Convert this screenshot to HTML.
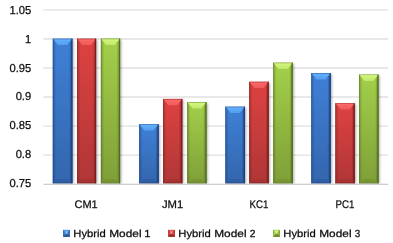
<!DOCTYPE html>
<html lang="en">
<head>
<meta charset="utf-8">
<title>Hybrid Models Chart</title>
<style>
html,body{margin:0;padding:0;background:#fff;}
body{width:393px;height:243px;overflow:hidden;}
svg{display:block;}
text{font-family:"Liberation Sans",sans-serif;fill:#0c0c0c;stroke:#0c0c0c;stroke-width:0.25px;text-rendering:geometricPrecision;}
</style>
</head>
<body>
<svg width="393" height="243" viewBox="0 0 393 243">
<defs>
<linearGradient id="b0" x1="0" y1="0" x2="0" y2="1"><stop offset="0" stop-color="#3f80d6"/><stop offset="1" stop-color="#3366ad"/></linearGradient>
<linearGradient id="t0" x1="0" y1="0" x2="0" y2="1"><stop offset="0" stop-color="#62b0fc"/><stop offset="1" stop-color="#62b0fc" stop-opacity="0.62"/></linearGradient>
<linearGradient id="b1" x1="0" y1="0" x2="0" y2="1"><stop offset="0" stop-color="#de4242"/><stop offset="1" stop-color="#b03636"/></linearGradient>
<linearGradient id="t1" x1="0" y1="0" x2="0" y2="1"><stop offset="0" stop-color="#fb6a6a"/><stop offset="1" stop-color="#fb6a6a" stop-opacity="0.62"/></linearGradient>
<linearGradient id="b2" x1="0" y1="0" x2="0" y2="1"><stop offset="0" stop-color="#a3d04a"/><stop offset="1" stop-color="#7f9f38"/></linearGradient>
<linearGradient id="t2" x1="0" y1="0" x2="0" y2="1"><stop offset="0" stop-color="#d4f67e"/><stop offset="1" stop-color="#d4f67e" stop-opacity="0.62"/></linearGradient>
<linearGradient id="l0" x1="0" y1="0" x2="1" y2="0"><stop offset="0" stop-color="#173a78" stop-opacity="0.45"/><stop offset="1" stop-color="#173a78" stop-opacity="0"/></linearGradient>
<linearGradient id="r0" x1="0" y1="0" x2="1" y2="0"><stop offset="0" stop-color="#173a78" stop-opacity="0"/><stop offset="1" stop-color="#173a78" stop-opacity="0.75"/></linearGradient>
<linearGradient id="l1" x1="0" y1="0" x2="1" y2="0"><stop offset="0" stop-color="#741a1a" stop-opacity="0.45"/><stop offset="1" stop-color="#741a1a" stop-opacity="0"/></linearGradient>
<linearGradient id="r1" x1="0" y1="0" x2="1" y2="0"><stop offset="0" stop-color="#741a1a" stop-opacity="0"/><stop offset="1" stop-color="#741a1a" stop-opacity="0.75"/></linearGradient>
<linearGradient id="l2" x1="0" y1="0" x2="1" y2="0"><stop offset="0" stop-color="#4c661a" stop-opacity="0.45"/><stop offset="1" stop-color="#4c661a" stop-opacity="0"/></linearGradient>
<linearGradient id="r2" x1="0" y1="0" x2="1" y2="0"><stop offset="0" stop-color="#4c661a" stop-opacity="0"/><stop offset="1" stop-color="#4c661a" stop-opacity="0.75"/></linearGradient>
<filter id="sh" x="-30%" y="-5%" width="160%" height="110%"><feGaussianBlur stdDeviation="0.8"/></filter>
<filter id="soft" x="-5%" y="-5%" width="110%" height="110%"><feGaussianBlur stdDeviation="0.35"/></filter>
<filter id="soft2" x="-50%" y="-50%" width="200%" height="200%"><feGaussianBlur stdDeviation="0.6"/></filter>
</defs>
<rect width="393" height="243" fill="#ffffff"/>
<g stroke="#e0e0e0" stroke-width="1.4">
<line x1="43.4" y1="9.9" x2="388.3" y2="9.9"/>
<line x1="43.4" y1="38.95" x2="388.3" y2="38.95"/>
<line x1="43.4" y1="68.0" x2="388.3" y2="68.0"/>
<line x1="43.4" y1="97.05" x2="388.3" y2="97.05"/>
<line x1="43.4" y1="126.1" x2="388.3" y2="126.1"/>
<line x1="43.4" y1="155.15" x2="388.3" y2="155.15"/>
</g>
<g fill="#000" opacity="0.3" filter="url(#sh)">
<rect x="54.1" y="39.8" width="19.6" height="143.6"/>
<rect x="78.4" y="39.8" width="19.0" height="143.6"/>
<rect x="102.2" y="39.8" width="19.2" height="143.6"/>
<rect x="140.5" y="125.4" width="19.5" height="58.0"/>
<rect x="164.4" y="100.1" width="19.2" height="83.3"/>
<rect x="188.5" y="103.3" width="19.3" height="80.1"/>
<rect x="226.7" y="107.8" width="19.5" height="75.6"/>
<rect x="250.5" y="82.9" width="19.5" height="100.5"/>
<rect x="274.5" y="63.8" width="19.6" height="119.6"/>
<rect x="312.6" y="74.2" width="19.4" height="109.2"/>
<rect x="336.7" y="104.4" width="19.4" height="79.0"/>
<rect x="360.4" y="75.7" width="19.4" height="107.7"/>
</g>
<g filter="url(#soft)">
<g><rect x="52.8" y="38.6" width="19.6" height="144.8" fill="url(#b0)"/><polygon points="52.8,38.6 52.8,183.4 56.2,180.4 56.2,42.8" fill="url(#l0)"/><polygon points="72.4,38.6 72.4,183.4 69.0,180.4 69.0,42.8" fill="url(#r0)"/><polygon points="53.5,39.2 71.7,39.2 67.2,45.0 58.0,45.0" fill="url(#t0)"/><polygon points="52.8,183.4 72.4,183.4 67.2,178.9 58.0,178.9" fill="#173a78" opacity="0.18"/><rect x="71.3" y="38.6" width="1.1" height="144.8" fill="#173a78" opacity="0.8"/><rect x="52.8" y="38.6" width="19.6" height="0.6" fill="#173a78" opacity="0.4"/><rect x="52.8" y="38.6" width="0.6" height="144.8" fill="#173a78" opacity="0.6"/><rect x="52.8" y="182.7" width="19.6" height="0.7" fill="#173a78" opacity="0.5"/></g>
<g><rect x="77.1" y="38.6" width="19.0" height="144.8" fill="url(#b1)"/><polygon points="77.1,38.6 77.1,183.4 80.5,180.4 80.5,42.8" fill="url(#l1)"/><polygon points="96.1,38.6 96.1,183.4 92.7,180.4 92.7,42.8" fill="url(#r1)"/><polygon points="77.8,39.2 95.4,39.2 90.9,45.0 82.3,45.0" fill="url(#t1)"/><polygon points="77.1,183.4 96.1,183.4 90.9,178.9 82.3,178.9" fill="#741a1a" opacity="0.18"/><rect x="95.0" y="38.6" width="1.1" height="144.8" fill="#741a1a" opacity="0.8"/><rect x="77.1" y="38.6" width="19.0" height="0.6" fill="#741a1a" opacity="0.4"/><rect x="77.1" y="38.6" width="0.6" height="144.8" fill="#741a1a" opacity="0.6"/><rect x="77.1" y="182.7" width="19.0" height="0.7" fill="#741a1a" opacity="0.5"/></g>
<g><rect x="100.9" y="38.6" width="19.2" height="144.8" fill="url(#b2)"/><polygon points="100.9,38.6 100.9,183.4 104.3,180.4 104.3,42.8" fill="url(#l2)"/><polygon points="120.1,38.6 120.1,183.4 116.7,180.4 116.7,42.8" fill="url(#r2)"/><polygon points="101.6,39.2 119.4,39.2 114.9,45.0 106.1,45.0" fill="url(#t2)"/><polygon points="100.9,183.4 120.1,183.4 114.9,178.9 106.1,178.9" fill="#4c661a" opacity="0.18"/><rect x="119.0" y="38.6" width="1.1" height="144.8" fill="#4c661a" opacity="0.8"/><rect x="100.9" y="38.6" width="19.2" height="0.6" fill="#4c661a" opacity="0.4"/><rect x="100.9" y="38.6" width="0.6" height="144.8" fill="#4c661a" opacity="0.6"/><rect x="100.9" y="182.7" width="19.2" height="0.7" fill="#4c661a" opacity="0.5"/></g>
<g><rect x="139.2" y="124.2" width="19.5" height="59.2" fill="url(#b0)"/><polygon points="139.2,124.2 139.2,183.4 142.6,180.4 142.6,128.4" fill="url(#l0)"/><polygon points="158.7,124.2 158.7,183.4 155.2,180.4 155.2,128.4" fill="url(#r0)"/><polygon points="139.9,124.8 158.0,124.8 153.5,130.6 144.4,130.6" fill="url(#t0)"/><polygon points="139.2,183.4 158.7,183.4 153.5,178.9 144.4,178.9" fill="#173a78" opacity="0.18"/><rect x="157.6" y="124.2" width="1.1" height="59.2" fill="#173a78" opacity="0.8"/><rect x="139.2" y="124.2" width="19.5" height="0.6" fill="#173a78" opacity="0.4"/><rect x="139.2" y="124.2" width="0.6" height="59.2" fill="#173a78" opacity="0.6"/><rect x="139.2" y="182.7" width="19.5" height="0.7" fill="#173a78" opacity="0.5"/></g>
<g><rect x="163.1" y="98.9" width="19.2" height="84.5" fill="url(#b1)"/><polygon points="163.1,98.9 163.1,183.4 166.5,180.4 166.5,103.1" fill="url(#l1)"/><polygon points="182.3,98.9 182.3,183.4 178.9,180.4 178.9,103.1" fill="url(#r1)"/><polygon points="163.8,99.5 181.7,99.5 177.2,105.3 168.3,105.3" fill="url(#t1)"/><polygon points="163.1,183.4 182.3,183.4 177.2,178.9 168.3,178.9" fill="#741a1a" opacity="0.18"/><rect x="181.2" y="98.9" width="1.1" height="84.5" fill="#741a1a" opacity="0.8"/><rect x="163.1" y="98.9" width="19.2" height="0.6" fill="#741a1a" opacity="0.4"/><rect x="163.1" y="98.9" width="0.6" height="84.5" fill="#741a1a" opacity="0.6"/><rect x="163.1" y="182.7" width="19.2" height="0.7" fill="#741a1a" opacity="0.5"/></g>
<g><rect x="187.2" y="102.1" width="19.3" height="81.3" fill="url(#b2)"/><polygon points="187.2,102.1 187.2,183.4 190.6,180.4 190.6,106.3" fill="url(#l2)"/><polygon points="206.5,102.1 206.5,183.4 203.1,180.4 203.1,106.3" fill="url(#r2)"/><polygon points="187.9,102.7 205.8,102.7 201.3,108.5 192.4,108.5" fill="url(#t2)"/><polygon points="187.2,183.4 206.5,183.4 201.3,178.9 192.4,178.9" fill="#4c661a" opacity="0.18"/><rect x="205.4" y="102.1" width="1.1" height="81.3" fill="#4c661a" opacity="0.8"/><rect x="187.2" y="102.1" width="19.3" height="0.6" fill="#4c661a" opacity="0.4"/><rect x="187.2" y="102.1" width="0.6" height="81.3" fill="#4c661a" opacity="0.6"/><rect x="187.2" y="182.7" width="19.3" height="0.7" fill="#4c661a" opacity="0.5"/></g>
<g><rect x="225.4" y="106.6" width="19.5" height="76.8" fill="url(#b0)"/><polygon points="225.4,106.6 225.4,183.4 228.8,180.4 228.8,110.8" fill="url(#l0)"/><polygon points="244.9,106.6 244.9,183.4 241.5,180.4 241.5,110.8" fill="url(#r0)"/><polygon points="226.1,107.2 244.2,107.2 239.8,113.0 230.6,113.0" fill="url(#t0)"/><polygon points="225.4,183.4 244.9,183.4 239.8,178.9 230.6,178.9" fill="#173a78" opacity="0.18"/><rect x="243.8" y="106.6" width="1.1" height="76.8" fill="#173a78" opacity="0.8"/><rect x="225.4" y="106.6" width="19.5" height="0.6" fill="#173a78" opacity="0.4"/><rect x="225.4" y="106.6" width="0.6" height="76.8" fill="#173a78" opacity="0.6"/><rect x="225.4" y="182.7" width="19.5" height="0.7" fill="#173a78" opacity="0.5"/></g>
<g><rect x="249.2" y="81.7" width="19.5" height="101.7" fill="url(#b1)"/><polygon points="249.2,81.7 249.2,183.4 252.6,180.4 252.6,85.9" fill="url(#l1)"/><polygon points="268.7,81.7 268.7,183.4 265.3,180.4 265.3,85.9" fill="url(#r1)"/><polygon points="249.9,82.3 268.0,82.3 263.5,88.1 254.4,88.1" fill="url(#t1)"/><polygon points="249.2,183.4 268.7,183.4 263.5,178.9 254.4,178.9" fill="#741a1a" opacity="0.18"/><rect x="267.6" y="81.7" width="1.1" height="101.7" fill="#741a1a" opacity="0.8"/><rect x="249.2" y="81.7" width="19.5" height="0.6" fill="#741a1a" opacity="0.4"/><rect x="249.2" y="81.7" width="0.6" height="101.7" fill="#741a1a" opacity="0.6"/><rect x="249.2" y="182.7" width="19.5" height="0.7" fill="#741a1a" opacity="0.5"/></g>
<g><rect x="273.2" y="62.6" width="19.6" height="120.8" fill="url(#b2)"/><polygon points="273.2,62.6 273.2,183.4 276.6,180.4 276.6,66.8" fill="url(#l2)"/><polygon points="292.8,62.6 292.8,183.4 289.4,180.4 289.4,66.8" fill="url(#r2)"/><polygon points="273.9,63.2 292.1,63.2 287.6,69.0 278.4,69.0" fill="url(#t2)"/><polygon points="273.2,183.4 292.8,183.4 287.6,178.9 278.4,178.9" fill="#4c661a" opacity="0.18"/><rect x="291.6" y="62.6" width="1.1" height="120.8" fill="#4c661a" opacity="0.8"/><rect x="273.2" y="62.6" width="19.6" height="0.6" fill="#4c661a" opacity="0.4"/><rect x="273.2" y="62.6" width="0.6" height="120.8" fill="#4c661a" opacity="0.6"/><rect x="273.2" y="182.7" width="19.6" height="0.7" fill="#4c661a" opacity="0.5"/></g>
<g><rect x="311.3" y="73.0" width="19.4" height="110.4" fill="url(#b0)"/><polygon points="311.3,73.0 311.3,183.4 314.7,180.4 314.7,77.2" fill="url(#l0)"/><polygon points="330.7,73.0 330.7,183.4 327.3,180.4 327.3,77.2" fill="url(#r0)"/><polygon points="312.0,73.6 330.0,73.6 325.5,79.4 316.5,79.4" fill="url(#t0)"/><polygon points="311.3,183.4 330.7,183.4 325.5,178.9 316.5,178.9" fill="#173a78" opacity="0.18"/><rect x="329.6" y="73.0" width="1.1" height="110.4" fill="#173a78" opacity="0.8"/><rect x="311.3" y="73.0" width="19.4" height="0.6" fill="#173a78" opacity="0.4"/><rect x="311.3" y="73.0" width="0.6" height="110.4" fill="#173a78" opacity="0.6"/><rect x="311.3" y="182.7" width="19.4" height="0.7" fill="#173a78" opacity="0.5"/></g>
<g><rect x="335.4" y="103.2" width="19.4" height="80.2" fill="url(#b1)"/><polygon points="335.4,103.2 335.4,183.4 338.8,180.4 338.8,107.4" fill="url(#l1)"/><polygon points="354.8,103.2 354.8,183.4 351.4,180.4 351.4,107.4" fill="url(#r1)"/><polygon points="336.1,103.8 354.1,103.8 349.6,109.6 340.6,109.6" fill="url(#t1)"/><polygon points="335.4,183.4 354.8,183.4 349.6,178.9 340.6,178.9" fill="#741a1a" opacity="0.18"/><rect x="353.6" y="103.2" width="1.1" height="80.2" fill="#741a1a" opacity="0.8"/><rect x="335.4" y="103.2" width="19.4" height="0.6" fill="#741a1a" opacity="0.4"/><rect x="335.4" y="103.2" width="0.6" height="80.2" fill="#741a1a" opacity="0.6"/><rect x="335.4" y="182.7" width="19.4" height="0.7" fill="#741a1a" opacity="0.5"/></g>
<g><rect x="359.1" y="74.5" width="19.4" height="108.9" fill="url(#b2)"/><polygon points="359.1,74.5 359.1,183.4 362.5,180.4 362.5,78.7" fill="url(#l2)"/><polygon points="378.6,74.5 378.6,183.4 375.2,180.4 375.2,78.7" fill="url(#r2)"/><polygon points="359.8,75.1 377.9,75.1 373.4,80.9 364.3,80.9" fill="url(#t2)"/><polygon points="359.1,183.4 378.6,183.4 373.4,178.9 364.3,178.9" fill="#4c661a" opacity="0.18"/><rect x="377.4" y="74.5" width="1.1" height="108.9" fill="#4c661a" opacity="0.8"/><rect x="359.1" y="74.5" width="19.4" height="0.6" fill="#4c661a" opacity="0.4"/><rect x="359.1" y="74.5" width="0.6" height="108.9" fill="#4c661a" opacity="0.6"/><rect x="359.1" y="182.7" width="19.4" height="0.7" fill="#4c661a" opacity="0.5"/></g>
</g>
<g filter="url(#soft)"><rect x="43.5" y="183.70" width="344.9" height="1.2" fill="#c9c9c9"/></g>
<g transform="translate(31.2,0) scale(0.973,1)">
<text x="0" y="13.55" font-size="11.5" text-anchor="end">1.05</text>
<text x="0" y="42.53" font-size="11.5" text-anchor="end">1</text>
<text x="0" y="71.52" font-size="11.5" text-anchor="end">0.95</text>
<text x="0" y="100.40" font-size="11.5" text-anchor="end">0.9</text>
<text x="0" y="129.38" font-size="11.5" text-anchor="end">0.85</text>
<text x="0" y="158.37" font-size="11.5" text-anchor="end">0.8</text>
<text x="0" y="187.25" font-size="11.5" text-anchor="end">0.75</text>
</g>
<text x="74.50" y="208.45" font-size="11.1" textLength="23.20" lengthAdjust="spacingAndGlyphs">CM1</text>
<text x="161.90" y="208.45" font-size="11.1" textLength="21.40" lengthAdjust="spacingAndGlyphs">JM1</text>
<text x="249.60" y="208.45" font-size="11.1" textLength="18.90" lengthAdjust="spacingAndGlyphs">KC1</text>
<text x="335.60" y="208.45" font-size="11.1" textLength="18.90" lengthAdjust="spacingAndGlyphs">PC1</text>
<g><rect x="63.1" y="229.9" width="6.9" height="6.9" fill="#3f80d6"/><polygon points="63.1,229.9 70.0,229.9 66.55,233.35" fill="#62b0fc"/><polygon points="70.0,229.9 70.0,236.8 66.55,233.35" fill="#3a76c9"/><polygon points="63.1,229.9 63.1,236.8 66.55,233.35" fill="#3f80d6"/><polygon points="63.1,236.8 70.0,236.8 66.55,233.35" fill="#2a5596"/><circle cx="66.55" cy="233.04999999999998" r="1.3" fill="#ffffff" opacity="0.35" filter="url(#soft2)"/><rect x="63.35" y="230.15" width="6.4" height="6.4" fill="none" stroke="#173a78" stroke-width="0.5" opacity="0.45"/></g>
<text y="236.9" font-size="10.3"><tspan x="73.32" textLength="32.51" lengthAdjust="spacingAndGlyphs">Hybrid</tspan> <tspan x="109.22" textLength="32.35" lengthAdjust="spacingAndGlyphs">Model</tspan> <tspan x="144.21" textLength="6.23" lengthAdjust="spacingAndGlyphs">1</tspan></text>
<g><rect x="168.1" y="229.9" width="6.9" height="6.9" fill="#de4242"/><polygon points="168.1,229.9 175.0,229.9 171.54999999999998,233.35" fill="#fb6a6a"/><polygon points="175.0,229.9 175.0,236.8 171.54999999999998,233.35" fill="#cc3e3e"/><polygon points="168.1,229.9 168.1,236.8 171.54999999999998,233.35" fill="#de4242"/><polygon points="168.1,236.8 175.0,236.8 171.54999999999998,233.35" fill="#962c2c"/><circle cx="171.54999999999998" cy="233.04999999999998" r="1.3" fill="#ffffff" opacity="0.35" filter="url(#soft2)"/><rect x="168.35" y="230.15" width="6.4" height="6.4" fill="none" stroke="#741a1a" stroke-width="0.5" opacity="0.45"/></g>
<text y="236.9" font-size="10.3"><tspan x="178.32" textLength="32.51" lengthAdjust="spacingAndGlyphs">Hybrid</tspan> <tspan x="214.22" textLength="32.35" lengthAdjust="spacingAndGlyphs">Model</tspan> <tspan x="249.77" textLength="5.69" lengthAdjust="spacingAndGlyphs">2</tspan></text>
<g><rect x="273.1" y="229.9" width="6.9" height="6.9" fill="#a3d04a"/><polygon points="273.1,229.9 280.0,229.9 276.55,233.35" fill="#d4f67e"/><polygon points="280.0,229.9 280.0,236.8 276.55,233.35" fill="#93b93e"/><polygon points="273.1,229.9 273.1,236.8 276.55,233.35" fill="#a3d04a"/><polygon points="273.1,236.8 280.0,236.8 276.55,233.35" fill="#6b882c"/><circle cx="276.55" cy="233.04999999999998" r="1.3" fill="#ffffff" opacity="0.35" filter="url(#soft2)"/><rect x="273.35" y="230.15" width="6.4" height="6.4" fill="none" stroke="#4c661a" stroke-width="0.5" opacity="0.45"/></g>
<text y="236.9" font-size="10.3"><tspan x="283.32" textLength="32.51" lengthAdjust="spacingAndGlyphs">Hybrid</tspan> <tspan x="319.22" textLength="32.35" lengthAdjust="spacingAndGlyphs">Model</tspan> <tspan x="354.85" textLength="5.46" lengthAdjust="spacingAndGlyphs">3</tspan></text>
</svg>
</body>
</html>
